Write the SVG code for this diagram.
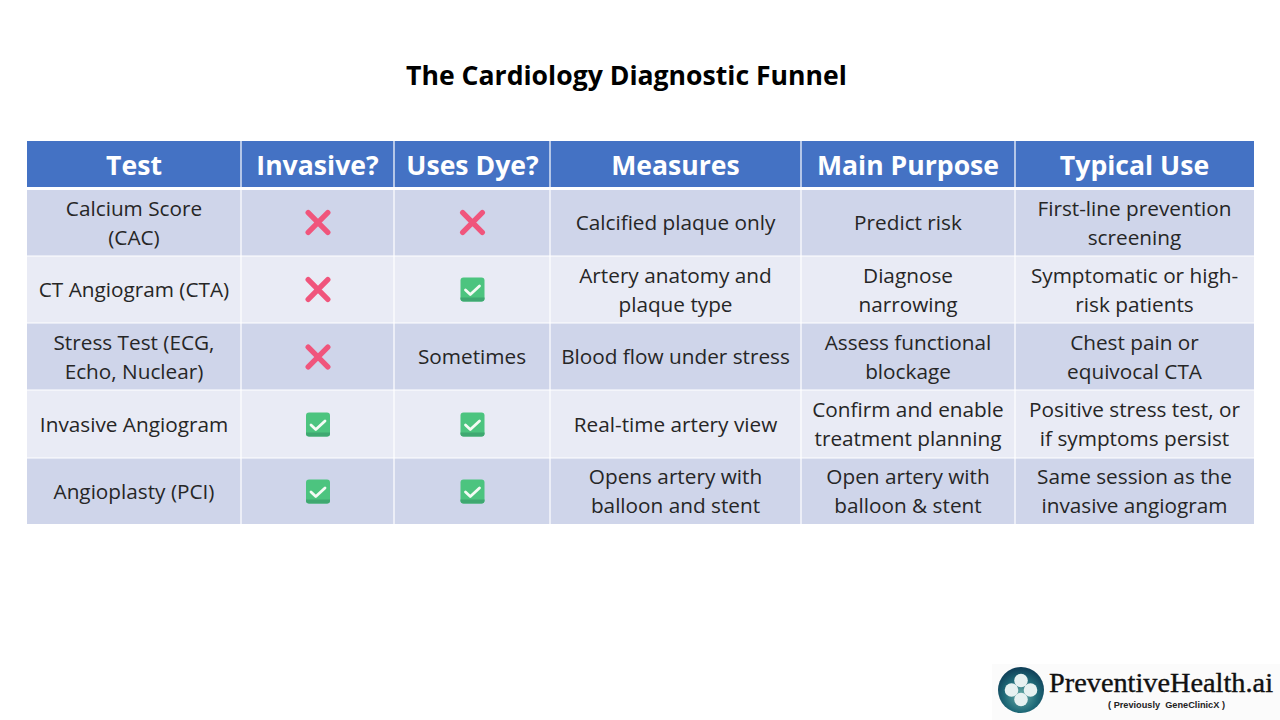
<svg xmlns="http://www.w3.org/2000/svg" width="1280" height="720" viewBox="0 0 1280 720">
<style>
text{font-family:"Open Sans","Noto Sans","Liberation Sans",sans-serif;text-anchor:middle}
.t{font-size:20.75px;fill:#262626}
.h{font-size:26.6px;font-weight:700;fill:#fff}
.title{font-size:26.6px;font-weight:700;fill:#000}
.hd{fill:#4472c4}.a{fill:#cfd5ea}.b{fill:#e9ebf5}
.sep{stroke:#fff;stroke-width:1.2;fill:none}
</style>
<defs>
<g id="no"><path d="M-9.800 -9.800L9.800 9.800M9.800 -9.800L-9.800 9.800" stroke="#f0557c" stroke-width="5.4" stroke-linecap="round"/></g>
<g id="yes"><rect x="-12" y="-12" width="24" height="24" rx="3" fill="#4cc47f"/><path d="M-12 8V9A3 3 0 0 0 -9 12H9A3 3 0 0 0 12 9V8Z" fill="#3fa871"/><path d="M-7 0.500L-2.200 5L7 -3.500" fill="none" stroke="#f4fbf4" stroke-width="2.800" stroke-linecap="round" stroke-linejoin="round"/></g>
<radialGradient id="orb" cx="0.5" cy="0.62" r="0.6"><stop offset="0" stop-color="#6aaeaa"/><stop offset="0.6" stop-color="#1f6a78"/><stop offset="1" stop-color="#0f3f58"/></radialGradient>
</defs>
<rect width="1280" height="720" fill="#fff"/>
<text class="title" x="626.500" y="85">The Cardiology Diagnostic Funnel</text>
<g id="table">
<rect class="hd" x="27" y="141" width="1227" height="46"/>
<rect class="a" x="27" y="190" width="1227" height="66"/>
<rect class="b" x="27" y="256" width="1227" height="67"/>
<rect class="a" x="27" y="323" width="1227" height="67"/>
<rect class="b" x="27" y="390" width="1227" height="68"/>
<rect class="a" x="27" y="458" width="1227" height="66"/>
<path class="sep" d="M241 141V524M394 141V524M550 141V524M801 141V524M1015 141V524M27 256H1254M27 323H1254M27 390H1254M27 458H1254"/>
</g>
<g id="header">
<text class="h" x="134" y="175">Test</text>
<text class="h" x="317.500" y="175">Invasive?</text>
<text class="h" x="472.500" y="175">Uses Dye?</text>
<text class="h" x="675.500" y="175">Measures</text>
<text class="h" x="908" y="175">Main Purpose</text>
<text class="h" x="1134.500" y="175">Typical Use</text>
</g>
<g id="row1">
<text class="t" x="134" y="216">Calcium Score</text><text class="t" x="134" y="245">(CAC)</text>
<use href="#no" x="318" y="222.500"/><use href="#no" x="472.500" y="222.500"/>
<text class="t" x="675.500" y="230">Calcified plaque only</text>
<text class="t" x="908" y="230">Predict risk</text>
<text class="t" x="1134.500" y="216">First-line prevention</text><text class="t" x="1134.500" y="245">screening</text>
</g>
<g id="row2">
<text class="t" x="134" y="297">CT Angiogram (CTA)</text>
<use href="#no" x="318" y="289.500"/><use href="#yes" x="472.500" y="289.500"/>
<text class="t" x="675.500" y="283">Artery anatomy and</text><text class="t" x="675.500" y="312">plaque type</text>
<text class="t" x="908" y="283">Diagnose</text><text class="t" x="908" y="312">narrowing</text>
<text class="t" x="1134.500" y="283">Symptomatic or high-</text><text class="t" x="1134.500" y="312">risk patients</text>
</g>
<g id="row3">
<text class="t" x="134" y="350">Stress Test (ECG,</text><text class="t" x="134" y="379">Echo, Nuclear)</text>
<use href="#no" x="318" y="357"/>
<text class="t" x="472" y="364">Sometimes</text>
<text class="t" x="675.500" y="364">Blood flow under stress</text>
<text class="t" x="908" y="350">Assess functional</text><text class="t" x="908" y="379">blockage</text>
<text class="t" x="1134.500" y="350">Chest pain or</text><text class="t" x="1134.500" y="379">equivocal CTA</text>
</g>
<g id="row4">
<text class="t" x="134" y="432">Invasive Angiogram</text>
<use href="#yes" x="318" y="424.500"/><use href="#yes" x="472.500" y="424.500"/>
<text class="t" x="675.500" y="432">Real-time artery view</text>
<text class="t" x="908" y="417">Confirm and enable</text><text class="t" x="908" y="446">treatment planning</text>
<text class="t" x="1134.500" y="417">Positive stress test, or</text><text class="t" x="1134.500" y="446">if symptoms persist</text>
</g>
<g id="row5">
<text class="t" x="134" y="499">Angioplasty (PCI)</text>
<use href="#yes" x="318" y="491.500"/><use href="#yes" x="472.500" y="491.500"/>
<text class="t" x="675.500" y="484">Opens artery with</text><text class="t" x="675.500" y="513">balloon and stent</text>
<text class="t" x="908" y="484">Open artery with</text><text class="t" x="908" y="513">balloon &amp; stent</text>
<text class="t" x="1134.500" y="484">Same session as the</text><text class="t" x="1134.500" y="513">invasive angiogram</text>
</g>
<g id="logo">
<rect x="992" y="664" width="288" height="56" fill="#fbfbfb"/>
<circle cx="1021" cy="690" r="23" fill="url(#orb)"/>
<g fill="#e6f1f1"><circle cx="1021" cy="680.500" r="6.800"/><circle cx="1021" cy="699.500" r="6.800"/><circle cx="1011.500" cy="690" r="6.800"/><circle cx="1030.500" cy="690" r="6.800"/></g>
<text x="1161" y="691.500" textLength="224" lengthAdjust="spacingAndGlyphs" style="font-family:'Liberation Serif',serif;font-size:26.5px;fill:#111;stroke:#111;stroke-width:0.35">PreventiveHealth.ai</text>
<text x="1166.500" y="708" style="font-family:'Liberation Sans',sans-serif;font-size:9.200px;font-weight:700;fill:#222;white-space:pre">( Previously  GeneClinicX )</text>
</g>
</svg>
